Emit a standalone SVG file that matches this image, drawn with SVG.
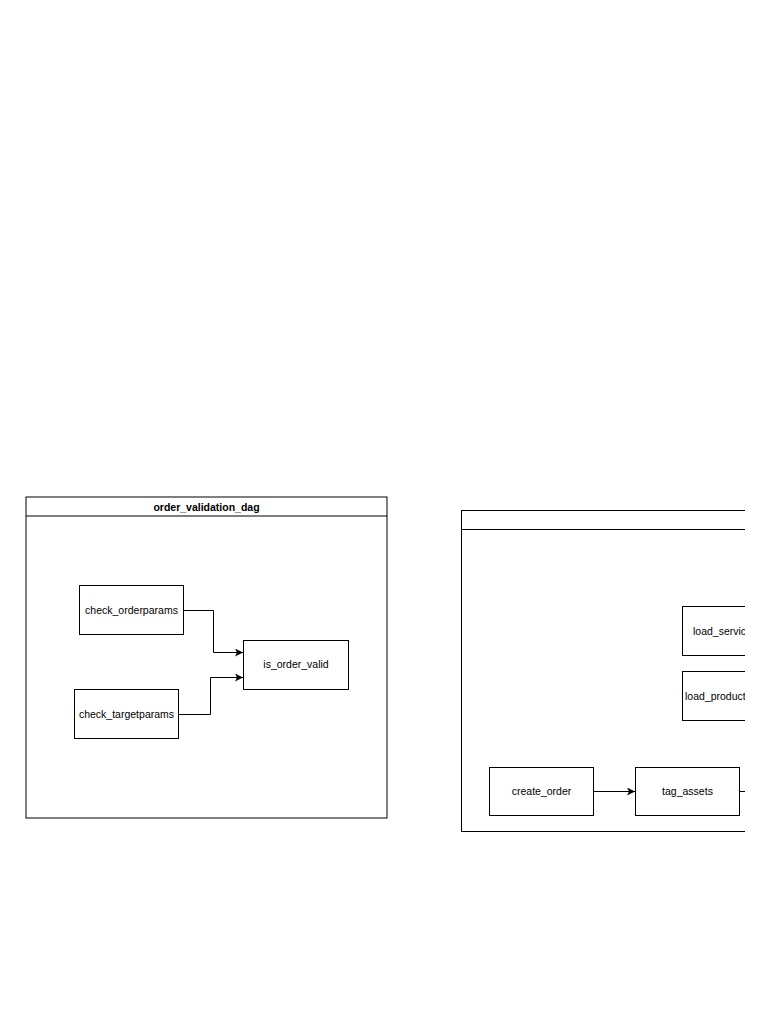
<svg xmlns="http://www.w3.org/2000/svg" width="768" height="1024" viewBox="0 0 768 1024">
<style>
.box{fill:#fff;stroke:#000;stroke-width:1}
.lbl{font-family:"Liberation Sans",Arial,sans-serif;font-size:10.5px;fill:#000;text-anchor:middle;dominant-baseline:central}
.st{text-anchor:start}
.ttl{font-weight:bold}
.edge{fill:none;stroke:#000;stroke-width:1}
</style>
<defs>
<marker id="arr" viewBox="0 0 10 10" refX="10" refY="5" markerWidth="8" markerHeight="8" markerUnits="userSpaceOnUse" orient="auto">
<path d="M0,0 L10,5 L0,10 L2.5,5 Z" fill="#000"/>
</marker>
<clipPath id="clipR"><rect x="0" y="0" width="745" height="1024"/></clipPath>
</defs>
<rect width="768" height="1024" fill="#fff"/>
<g id="order_validation_dag">
<rect class="box" x="26" y="497" width="361" height="321"/>
<line class="edge" x1="26" y1="516" x2="387" y2="516"/>
<text class="lbl ttl" x="206.5" y="506.5">order_validation_dag</text>
</g>
<g id="check_orderparams">
<rect class="box" x="79.5" y="585.5" width="104" height="49"/>
<text class="lbl" x="131.5" y="610">check_orderparams</text>
</g>
<g id="check_targetparams">
<rect class="box" x="74.5" y="689.5" width="104" height="49"/>
<text class="lbl" x="126.5" y="714">check_targetparams</text>
</g>
<g id="is_order_valid">
<rect class="box" x="243.5" y="640.5" width="105" height="49"/>
<text class="lbl" x="296" y="664">is_order_valid</text>
</g>
<g clip-path="url(#clipR)">
<g id="right_dag">
<rect class="box" x="461.5" y="510.5" width="340" height="321"/>
<line class="edge" x1="461.5" y1="529.5" x2="801.5" y2="529.5"/>
</g>
<g id="load_servic">
<rect class="box" x="682.5" y="606.5" width="105" height="49"/>
<text class="lbl st" x="693" y="631">load_servic</text>
</g>
<g id="load_product">
<rect class="box" x="682.5" y="671.5" width="105" height="49"/>
<text class="lbl st" x="685" y="696">load_product</text>
</g>
<g id="create_order">
<rect class="box" x="489.5" y="767.5" width="104" height="48"/>
<text class="lbl" x="541.5" y="791">create_order</text>
</g>
<g id="tag_assets">
<rect class="box" x="635.5" y="767.5" width="104" height="48"/>
<text class="lbl" x="687.5" y="791">tag_assets</text>
</g>
<g id="connectors_right">
<path class="edge" d="M593.5,791.5 H635" marker-end="url(#arr)"/>
<path class="edge" d="M739.5,791.5 H760"/>
</g>
</g>
<g id="connectors">
<path class="edge" d="M183.5,610.5 H213.5 V652.5 H243" marker-end="url(#arr)"/>
<path class="edge" d="M178.5,714.5 H210.5 V677.5 H243" marker-end="url(#arr)"/>
</g>
</svg>
